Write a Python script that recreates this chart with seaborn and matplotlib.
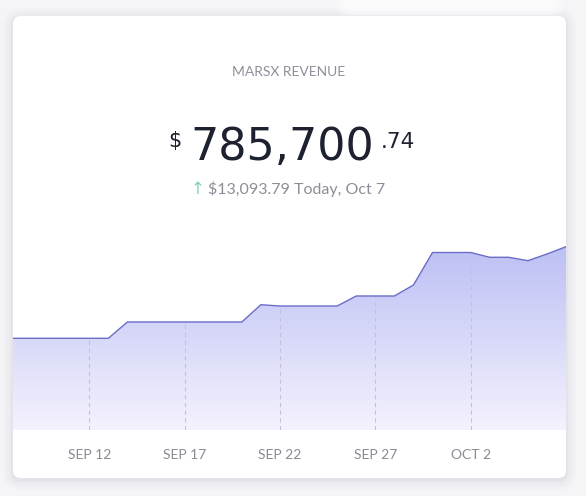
import numpy as np
import pandas as pd
import matplotlib.pyplot as plt
import matplotlib.dates as mdates
import seaborn as sns
from matplotlib.patches import FancyBboxPatch
from matplotlib.transforms import IdentityTransform
from matplotlib.colors import LinearSegmentedColormap

sns.set_theme(style="white")
plt.rcParams['font.family'] = ['Lato', 'DejaVu Sans']

# daily revenue
dates = pd.date_range("2019-09-08", "2019-10-07", freq="D")
revenue = [393000, 393000, 393000, 393000, 393000, 393000,
           463000, 463000, 463000, 463000, 463000, 463000, 463000,
           537000, 531500, 531500, 531500, 531500,
           574400, 574400, 574400, 621500,
           760800, 760800, 760800, 740300, 740300, 725700, 754400, 785700.74]

tick_dates = pd.to_datetime(["2019-09-12", "2019-09-17", "2019-09-22",
                             "2019-09-27", "2019-10-02"])
tick_labels = ["SEP 12", "SEP 17", "SEP 22", "SEP 27", "OCT 2"]

df = pd.DataFrame({"date": dates, "revenue": revenue})

W, H = 586, 496
fig = plt.figure(figsize=(W / 100, H / 100), dpi=100, facecolor="#f5f5f7")

# card + soft shadow (pixel coords)
card_x, card_y, card_w, card_h = 13, 496 - 478, 553, 462
for s, a in [(10, 0.012), (7, 0.018), (4, 0.025), (2, 0.03)]:
    fig.patches.append(FancyBboxPatch(
        (card_x - s, card_y - s - 2), card_w + 2 * s, card_h + 2 * s,
        boxstyle="round,pad=0,rounding_size=%d" % (8 + s),
        facecolor="#3a3a60", alpha=a, edgecolor="none",
        transform=IdentityTransform(), zorder=-3))
fig.patches.append(FancyBboxPatch(
    (card_x, card_y), card_w, card_h,
    boxstyle="round,pad=0,rounding_size=8",
    facecolor="white", edgecolor="none",
    transform=IdentityTransform(), zorder=-1))

# another card peeking at the top
for s, a in [(10, 0.2), (6, 0.3), (2, 0.4)]:
    fig.patches.append(FancyBboxPatch(
        (345 - s, 487 - s), 210 + 2 * s, 40,
        boxstyle="round,pad=0,rounding_size=%d" % (8 + s),
        facecolor="white", alpha=a, edgecolor="none",
        transform=IdentityTransform(), zorder=-2))

ax = fig.add_axes([13 / W, (496 - 430) / H, 553 / W, (430 - 225) / H])
ax.patch.set_alpha(0)
ymax = 878700

# gradient area
poly = ax.fill_between(df["date"], df["revenue"], 0,
                       facecolor="none", edgecolor="none")
cmap = LinearSegmentedColormap.from_list("area", ["#f4f2fe", "#bcc0f4"])
grad = np.linspace(0, 1, 256).reshape(-1, 1)
x0 = mdates.date2num(dates[0])
x1 = mdates.date2num(dates[-1])
im = ax.imshow(grad, extent=[x0, x1, 0, 785700.74], origin="lower",
               aspect="auto", cmap=cmap, zorder=1)
im.set_clip_path(poly.get_paths()[0], transform=ax.transData)

sns.lineplot(data=df, x="date", y="revenue", color="#6a6ec6",
             linewidth=1.0, ax=ax, zorder=3)

tick_vals = df.set_index("date").loc[tick_dates, "revenue"].values
ax.vlines(tick_dates, 0, tick_vals, colors="#c4c2da", linewidth=0.8,
          linestyles=(0, (4, 3)), zorder=2)

ax.set_xlim(x0, x1)
ax.set_ylim(0, ymax)
ax.set_xticks(tick_dates)
ax.set_xticklabels(tick_labels)
ax.tick_params(axis="x", length=0, pad=14, labelsize=10, labelcolor="#8a8a94")
ax.set_yticks([])
ax.set_xlabel("")
ax.set_ylabel("")
for sp in ax.spines.values():
    sp.set_visible(False)

def fx(px):
    return px / W

def fy(py):
    return 1 - py / H

fig.text(fx(289), fy(72), "MARSX REVENUE", ha="center", va="center",
         fontsize=10, color="#8f8f9b")
fig.text(fx(282), fy(160), "785,700", ha="center", va="baseline",
         fontsize=32, color="#1e2130", family=["DejaVu Sans"])
fig.text(fx(182), fy(147), "$", ha="right", va="baseline",
         fontsize=15, color="#1e2130", family=["DejaVu Sans"])
fig.text(fx(381), fy(148), ".74", ha="left", va="baseline",
         fontsize=15.5, color="#1e2130", family=["DejaVu Sans"])
fig.text(fx(198), fy(189), "↑", ha="center", va="center",
         fontsize=12, color="#86d3b0", family=["DejaVu Sans"])
fig.text(fx(208), fy(194), "$13,093.79 Today, Oct 7", ha="left",
         va="baseline", fontsize=11.5, color="#8d8d98")

fig.savefig("out.png", dpi=100, facecolor=fig.get_facecolor())
